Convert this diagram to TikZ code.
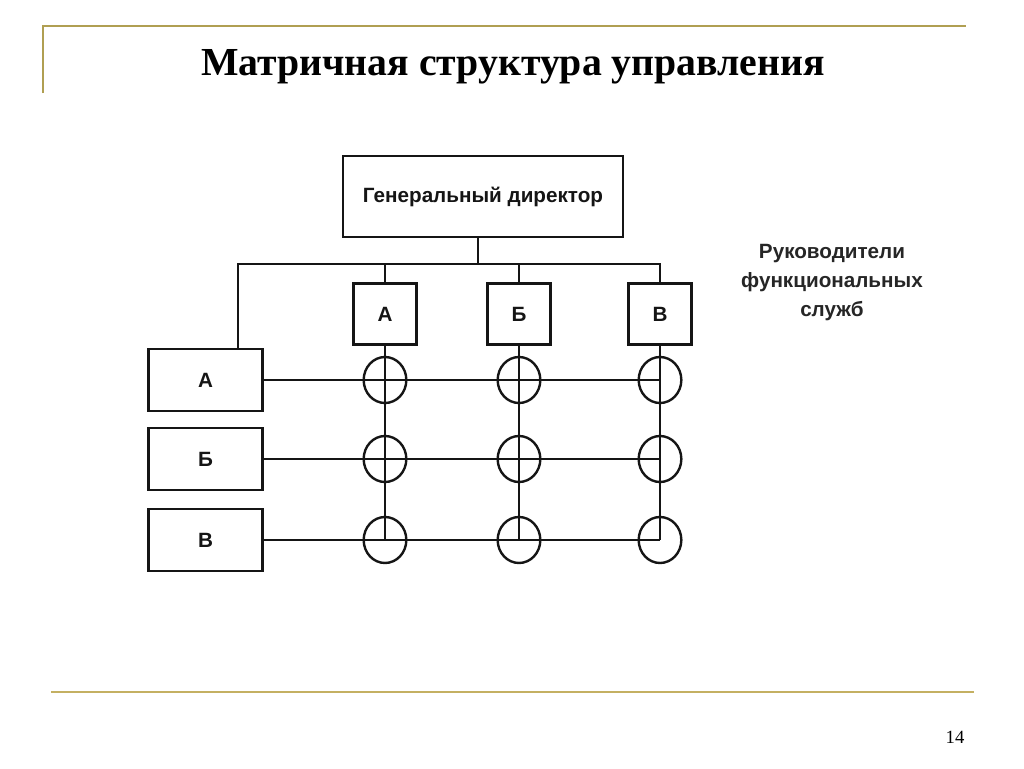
\documentclass[tikz,border=0pt]{standalone}
\usepackage{fontspec}
\setmainfont{Liberation Serif}
\newfontfamily\diagfont{Liberation Sans}
\usetikzlibrary{shapes.geometric,calc}
\definecolor{goldline}{HTML}{B09F52}
\definecolor{goldlow}{HTML}{C4B062}
\definecolor{labgray}{HTML}{262626}
\definecolor{inkc}{HTML}{151515}
\begin{document}
\begin{tikzpicture}[x=0.75pt,y=-0.75pt,
  dfont/.style={font=\diagfont\bfseries\fontsize{15.5}{18}\selectfont},
  box/.style={draw=inkc, line width=1.8pt, inner sep=0pt, dfont, text=inkc},
  gdbox/.style={box, minimum width=210pt, minimum height=60.75pt},
  colbox/.style={box, minimum width=47.25pt, minimum height=45.75pt},
  rowbox/.style={box, minimum width=85.5pt, minimum height=46.5pt},
  cross/.style={draw=inkc, ellipse, line width=1.8pt, minimum width=32pt, minimum height=34.5pt, inner sep=0pt},
  conn/.style={draw=inkc, line width=1.8pt},
  goldrule/.style={draw=goldline, line width=2pt}]
\useasboundingbox (0,0) rectangle (1024,768);
\fill[white] (0,0) rectangle (1024,768);

% slide frame
\draw[goldrule] (43,93) -- (43,26) -- (966,26);
\draw[goldrule, draw=goldlow] (51,692) -- (974,692);

% title and page number
\node[font=\bfseries\fontsize{29.8}{34}\selectfont, anchor=base] (title) at (513,75) {Матричная структура управления};
\node[font=\fontsize{14}{16}\selectfont] (pg) at (955,737) {14};

% boxes
\node[gdbox] (gd) at (483,196.5) {Генеральный директор};
\node[colbox] (ca) at (385,314) {А};
\node[colbox] (cb) at (519,314) {Б};
\node[colbox] (cv) at (660,314) {В};
\node[rowbox] (ra) at (205.5,380) {А};
\node[rowbox] (rb) at (205.5,459) {Б};
\node[rowbox] (rv) at (205.5,540) {В};

% side label
\node[text=labgray, align=center, font=\diagfont\bfseries\fontsize{15.5}{21.75}\selectfont] (lab) at (832,283) {Руководители\\функциональных\\служб};

% hierarchy bus
\coordinate (busL) at (238,264);
\coordinate (busR) at (660,264);
\coordinate (gdtap) at (478,264);
\draw[conn] (gd.south -| gdtap) -- (gdtap);
\draw[conn, line join=miter] (busL |- ra.north) -- (busL) -- (busR) -- (cv.north);
\draw[conn] (ca.north) -- (ca.north |- busL);
\draw[conn] (cb.north) -- (cb.north |- busL);

% matrix lines
\foreach \c in {ca,cb,cv} {
  \draw[conn] (\c.south) -- (\c.south |- rv.east);
}
\foreach \r in {ra,rb,rv} {
  \draw[conn] (\r.east) -- (\r.east -| cv.south);
}

% intersection circles
\foreach \c in {ca,cb,cv} {
  \foreach \r in {ra,rb,rv} {
    \node[cross] (x\c\r) at (\c.south |- \r.east) {};
  }
}
\end{tikzpicture}
\end{document}
